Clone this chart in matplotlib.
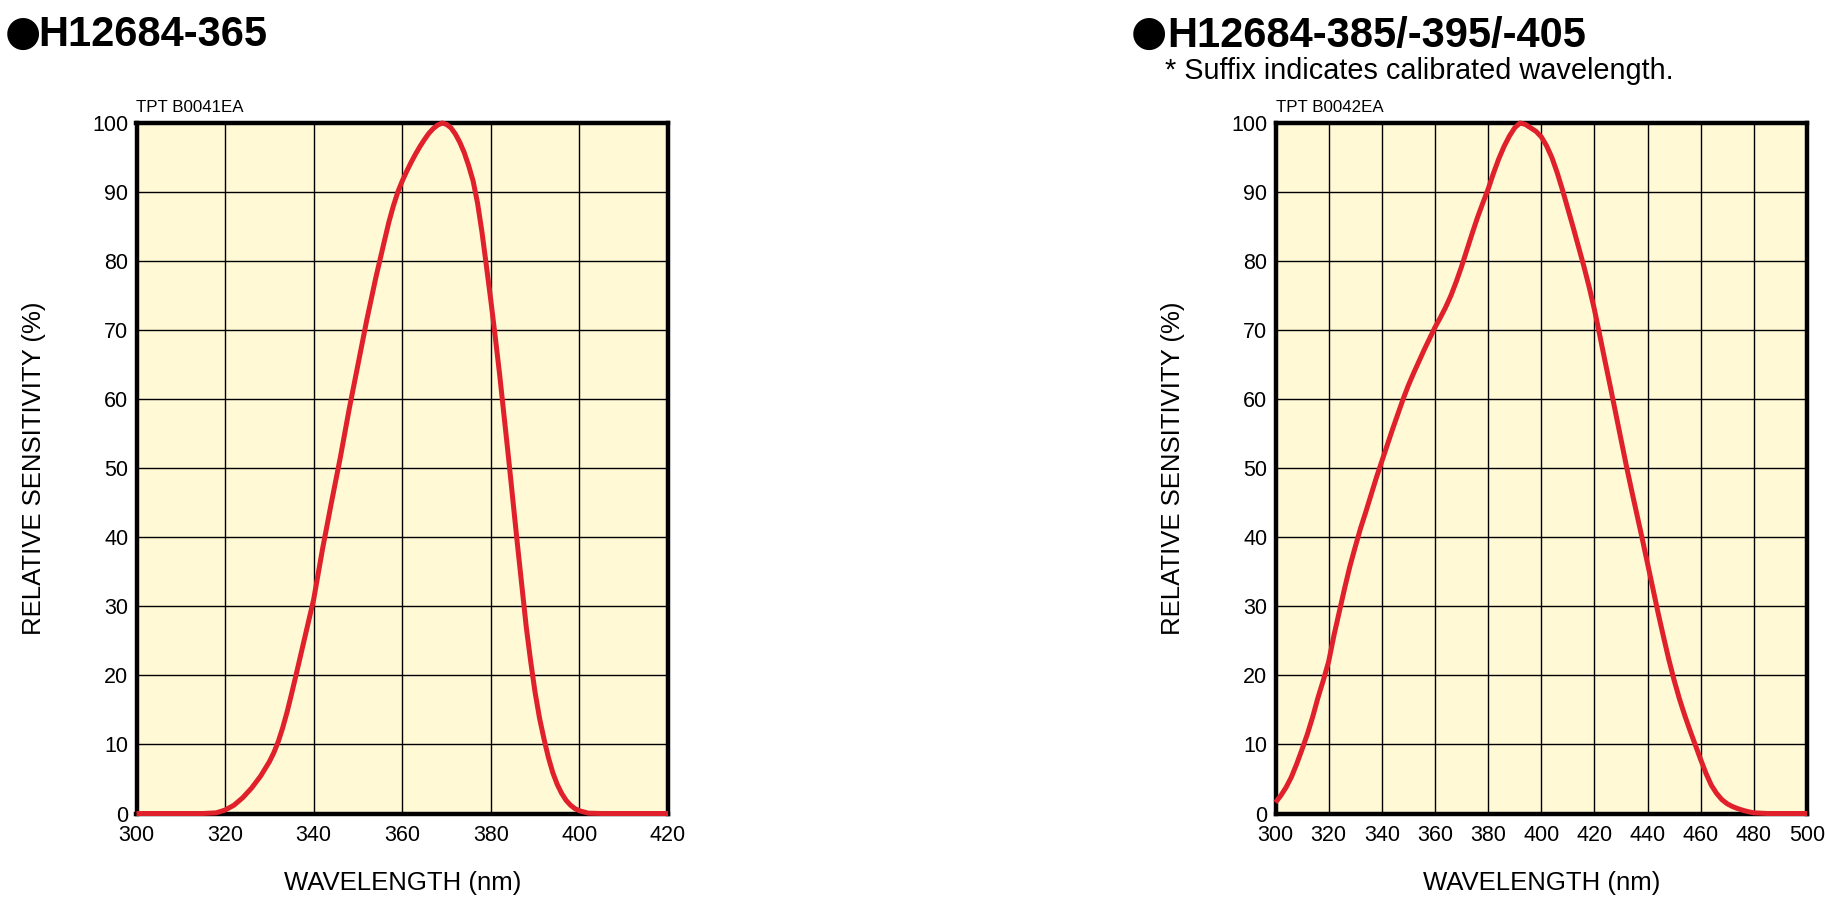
import numpy as np
import matplotlib.pyplot as plt

# H12684-365
wl_365 = [300, 305, 310, 315, 318, 320, 322, 324, 326, 328, 330, 331, 332, 333, 334,
          335, 336, 338, 340, 342, 344, 346, 348, 350, 352, 354, 356, 357, 358, 359,
          360, 361, 362, 363, 364, 365, 366, 367, 368, 369, 370, 371, 372, 373, 374,
          375, 376, 377, 378, 379, 380, 381, 382, 384, 386, 388, 389, 390, 391, 392,
          393, 394, 395, 396, 397, 398, 399, 400, 402, 405, 410, 415, 420]
sens_365 = [0, 0, 0, 0, 0.1, 0.5, 1.2, 2.3, 3.7, 5.4, 7.5, 8.8, 10.4, 12.4, 14.7,
            17.3, 20, 25.5, 31, 38.3, 45, 51.5, 58.5, 65, 71.5, 77.5, 83, 85.7, 88, 90,
            91.6, 93, 94.3, 95.5, 96.6, 97.6, 98.5, 99.2, 99.7, 100, 99.8, 99.3, 98.4, 97.2, 95.7,
            93.8, 91.6, 88.4, 84.2, 79.3, 74.3, 69, 63.5, 51.5, 39, 27, 22, 17.5, 13.8, 10.8,
            8.1, 5.9, 4.2, 2.9, 1.9, 1.2, 0.7, 0.4, 0.05, 0, 0, 0, 0]

# H12684-385/-395/-405
wl_405 = [300, 302, 304, 306, 308, 310, 312, 314, 316, 318, 320, 322, 324, 326, 328,
          330, 332, 334, 336, 338, 340, 342, 344, 346, 348, 350, 352, 354, 356, 358,
          360, 362, 364, 366, 368, 370, 372, 374, 376, 378, 380, 382, 384, 386, 388,
          390, 392, 394, 396, 398, 400, 402, 404, 406, 408, 410, 412, 414, 416, 418,
          420, 422, 424, 426, 428, 430, 432, 434, 436, 438, 440, 442, 444, 446, 448,
          450, 452, 454, 456, 458, 460, 462, 464, 466, 468, 470, 472, 474, 476, 478,
          480, 485, 490, 500]
sens_405 = [1.6, 2.6, 3.8, 5.3, 7.2, 9.3, 11.5, 14, 16.8, 19.3, 22, 25.8, 29.2, 32.6, 35.8,
            38.6, 41.3, 43.7, 46.2, 48.7, 51, 53.3, 55.6, 57.8, 60, 62, 63.8, 65.5, 67.2, 68.8,
            70.4, 71.8, 73.3, 75, 77, 79.2, 81.6, 84, 86.3, 88.4, 90.4, 92.7, 94.8, 96.6, 98.1,
            99.3, 100, 99.8, 99.3, 98.8, 98, 96.7, 95, 92.8, 90.3, 87.6, 84.9, 82.1, 79.3, 76.3,
            73.0, 69.3, 65.5, 61.8, 58, 54.2, 50.4, 46.8, 43.3, 39.8, 36.2, 32.6, 29, 25.6, 22.3,
            19.3, 16.6, 14.2, 12.0, 9.9, 7.8, 5.8, 4.1, 2.9, 2.0, 1.4, 1.0, 0.7, 0.45, 0.25,
            0.1, 0, 0, 0]

yticks = np.arange(0, 101, 10)
xticks_365 = np.arange(300, 421, 20)
xticks_405 = np.arange(300, 501, 20)

bg = '#fff9d5'
red = '#e0202a'

plt.rcParams['font.family'] = ['Liberation Sans', 'DejaVu Sans']

fig = plt.figure(figsize=(18.25, 9.07), dpi=100)
W, H = 1825, 907
ax1 = fig.add_axes([136.5 / W, 1 - 813.5 / H, 531.5 / W, 690.5 / H])
ax2 = fig.add_axes([1275.5 / W, 1 - 813.5 / H, 531.5 / W, 690.5 / H])

for ax, wl, s, xt, code in [(ax1, wl_365, sens_365, xticks_365, 'TPT B0041EA'),
                            (ax2, wl_405, sens_405, xticks_405, 'TPT B0042EA')]:
    ax.set_facecolor(bg)
    ax.plot(wl, s, color=red, linewidth=3.6, zorder=4, clip_on=False,
            solid_capstyle='butt', solid_joinstyle='round')
    ax.set_xlim(xt[0], xt[-1])
    ax.set_ylim(0, 100)
    ax.set_xticks(xt)
    ax.set_yticks(yticks)
    ax.set_axisbelow(True)
    ax.grid(True, color='black', linewidth=1.0)
    for sp in ax.spines.values():
        sp.set_linewidth(3.2)
        sp.set_zorder(3)
    ax.tick_params(length=0, labelsize=15.5, pad=6)
    ax.tick_params(axis='x', pad=8)
    ax.set_xlabel('WAVELENGTH (nm)', fontsize=18.5, labelpad=18)
    ax.set_ylabel('RELATIVE SENSITIVITY (%)', fontsize=18.5, labelpad=33)
    ax.text(0.0, 1.0 + 11 / 690.5, code, transform=ax.transAxes, fontsize=12.2,
            va='baseline', ha='left')

# titles: big bullet drawn in DejaVu Sans, model names in Liberation Sans bold
for bx, hx, name in [(4.5, 38.5, 'H12684-365'), (1131, 1167.5, 'H12684-385/-395/-405')]:
    fig.text(bx / W, 1 - 45 / H, '●', fontsize=30, family='DejaVu Sans',
             va='baseline', ha='left')
    fig.text(hx / W, 1 - 46.5 / H, name, fontsize=30, fontweight='bold',
             va='baseline', ha='left')
fig.text(1165 / W, 1 - 79 / H, '* Suffix indicates calibrated wavelength.', fontsize=20.8,
         va='baseline', ha='left')

fig.savefig('out.png', dpi=100, facecolor='white')
